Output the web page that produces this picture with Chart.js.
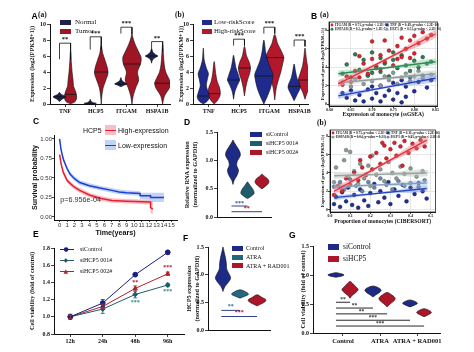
<!DOCTYPE html>
<html>
<head>
<meta charset="utf-8">
<script src="https://cdn.jsdelivr.net/npm/chart.js@4.4.1/dist/chart.umd.min.js"></script>
<style>
  html, body { margin: 0; padding: 0; background: #fff; }
  #fig { position: relative; width: 474px; height: 352px; overflow: hidden; background: #fff; }
  canvas { position: absolute; }
  .t { position: absolute; white-space: nowrap; font-family: 'Liberation Serif', serif; color: #111; line-height: 1; }
  .tag { position: absolute; font-family: 'Liberation Sans', Arial, sans-serif; font-weight: bold; font-size: 8.5px; line-height: 1; color: #000; }
  .box { position: absolute; }
</style>
</head>
<body>
<div id="fig"></div>
<script>
// ---------- data ----------

// A (a): TCGA expression, violin profiles as [value, half width] from bottom to top
const genes = ['TNF', 'HCP5', 'ITGAM', 'HSPA1B'];
const aNormal = [
  [[0.3, 0], [0.6, 0.08], [0.85, 0.2], [1.0, 0.18], [1.2, 0.06], [1.45, 0]],
  [[0, 0], [0.03, 0.14], [0.1, 0.2], [0.2, 0.08], [0.4, 0.02], [0.6, 0]],
  [[2.15, 0], [2.35, 0.1], [2.5, 0.2], [2.65, 0.14], [2.9, 0.04], [3.3, 0]],
  [[5.1, 0], [5.5, 0.03], [5.8, 0.12], [6.0, 0.2], [6.2, 0.12], [6.5, 0.04], [6.9, 0]]
];
const aTumor = [
  [[0, 0], [0.3, 0.15], [0.8, 0.2], [1.5, 0.17], [2.2, 0.1], [3, 0.08], [4, 0.05], [5, 0.03], [6.6, 0]],
  [[0, 0], [1, 0.02], [2, 0.06], [3, 0.15], [3.8, 0.22], [4.5, 0.2], [5.5, 0.12], [6.3, 0.05], [7.3, 0]],
  [[0, 0], [1, 0.04], [2, 0.12], [3, 0.22], [4, 0.18], [5, 0.28], [5.8, 0.3], [6.5, 0.22], [7.5, 0.1], [8.3, 0.03], [8.9, 0]],
  [[0, 0], [1, 0.06], [2, 0.22], [2.6, 0.26], [3.2, 0.2], [4, 0.1], [5, 0.05], [6, 0.03], [7.4, 0]]
];
const aNormalMed = [0.9, 0.05, 2.5, 6.0];
const aTumorMed = [1.2, 4.0, 5.0, 2.6];
const aSig = [[7.6, 2.0, '**'], [8.4, 1.6, '***'], [9.6, 0.8, '***'], [7.8, 1.3, '**']];

// A (b): low / high risk score
const abLow = [
  [[0, 0], [0.3, 0.12], [0.8, 0.2], [1.5, 0.16], [2.3, 0.1], [3.2, 0.14], [3.8, 0.17], [4.5, 0.1], [5.5, 0.03], [7, 0]],
  [[0.6, 0], [1.5, 0.04], [2.3, 0.12], [3.0, 0.2], [3.6, 0.16], [4.5, 0.08], [5.3, 0.04], [6.1, 0]],
  [[0, 0], [1, 0.12], [2, 0.22], [3, 0.28], [3.7, 0.3], [4.5, 0.22], [5.5, 0.12], [6.5, 0.06], [8, 0]],
  [[0.4, 0], [1.2, 0.1], [2, 0.2], [2.5, 0.18], [3.2, 0.1], [4, 0.05], [5, 0]]
];
const abHigh = [
  [[0, 0], [0.5, 0.12], [1.2, 0.2], [2, 0.18], [2.8, 0.1], [3.8, 0.05], [5.3, 0]],
  [[1, 0], [2, 0.04], [3, 0.1], [3.8, 0.17], [4.5, 0.2], [5.2, 0.16], [6, 0.07], [7.2, 0]],
  [[0.5, 0], [2, 0.05], [3, 0.12], [4, 0.2], [5, 0.26], [5.8, 0.3], [6.6, 0.22], [7.5, 0.1], [8.7, 0]],
  [[0.6, 0], [1.5, 0.08], [2.3, 0.18], [3, 0.22], [3.8, 0.16], [4.8, 0.08], [5.8, 0.04], [7, 0]]
];
const abLowMed = [1.0, 3.0, 3.5, 2.2];
const abHighMed = [1.3, 4.5, 5.8, 3.0];
const abSig = [null, [8.1, 0.8, '***'], [9.6, 0.8, '***'], [8.0, 0.8, '***']];

// B (a): genes vs monocyte ssGSEA score
const baRed = [[0.63,2.1],[0.64,3.0],[0.65,2.4],[0.66,3.6],[0.67,2.9],[0.68,4.4],[0.69,3.3],[0.70,4.9],[0.70,6.8],[0.71,3.9],[0.72,5.3],[0.73,4.6],[0.73,6.9],[0.74,5.8],[0.75,4.2],[0.76,6.3],[0.77,5.1],[0.77,7.2],[0.78,6.0],[0.79,6.9],[0.80,5.5],[0.80,7.4],[0.81,6.6],[0.82,7.8],[0.83,7.1],[0.84,7.5],[0.76,4.9],[0.72,3.8],[0.79,5.0],[0.67,5.2]];
const baGreen = [[0.63,3.3],[0.64,4.3],[0.65,2.9],[0.66,5.4],[0.67,3.7],[0.68,4.8],[0.69,3.1],[0.70,5.6],[0.71,4.1],[0.72,3.5],[0.72,5.0],[0.73,4.4],[0.74,3.0],[0.75,4.8],[0.76,3.9],[0.77,5.3],[0.78,4.2],[0.79,3.6],[0.80,4.7],[0.81,4.0],[0.82,5.1],[0.83,4.4],[0.84,4.6],[0.70,3.4],[0.75,5.6]];
const baGray = [[0.63,2.4],[0.65,1.9],[0.66,2.7],[0.68,2.2],[0.69,3.1],[0.70,2.5],[0.72,2.0],[0.73,3.0],[0.74,2.6],[0.75,3.4],[0.76,2.2],[0.77,2.9],[0.78,3.3],[0.79,2.5],[0.80,3.0],[0.81,3.6],[0.82,2.8],[0.84,3.2]];
const baNavy = [[0.63,1.2],[0.64,0.7],[0.65,1.5],[0.66,0.4],[0.67,1.0],[0.68,0.3],[0.69,1.6],[0.70,0.6],[0.71,1.2],[0.72,0.3],[0.72,2.0],[0.73,0.9],[0.74,1.5],[0.75,0.5],[0.75,2.3],[0.76,1.2],[0.77,2.6],[0.78,0.8],[0.78,1.9],[0.79,2.9],[0.80,1.4],[0.81,2.4],[0.82,3.1],[0.83,1.8],[0.84,2.6],[0.77,0.2],[0.70,1.9]];
// fitted lines: [x, y, half band]
const baRedFit = [[0.62, 2.2, 0.4], [0.735, 4.9, 0.15], [0.85, 7.6, 0.4]];
const baGreenFit = [[0.62, 3.3, 0.35], [0.735, 3.95, 0.12], [0.85, 4.6, 0.35]];
const baGrayFit = [[0.62, 2.3, 0.35], [0.735, 2.8, 0.12], [0.85, 3.3, 0.35]];
const baNavyFit = [[0.62, 0.9, 0.35], [0.735, 1.85, 0.12], [0.85, 2.8, 0.35]];
const baLegend = ['ITGAM (R = 0.71, p-value < 2.2E-16)', 'TNF (R = 0.49, p-value < 2.2E-16)',
  'HSPA1B (R = 0.2, p-value = 1.1E-5)', 'HCP5 (R = 0.51, p-value < 2.2E-16)'];

// B (b): genes vs CIBERSORT monocyte proportion
const bbRed = [[0.02,1.6],[0.04,2.6],[0.06,2.0],[0.08,3.4],[0.10,2.7],[0.12,4.0],[0.14,3.2],[0.16,4.6],[0.18,3.8],[0.20,5.8],[0.21,4.4],[0.23,6.2],[0.25,5.0],[0.27,7.0],[0.28,5.6],[0.30,6.6],[0.32,7.3],[0.33,5.9],[0.35,6.9],[0.37,7.5],[0.39,6.2],[0.41,7.2],[0.43,6.7],[0.45,7.6],[0.47,6.9],[0.26,7.3],[0.36,4.8],[0.15,5.4]];
const bbGray = [[0.02,3.0],[0.03,4.6],[0.05,2.4],[0.07,5.4],[0.09,3.6],[0.10,6.3],[0.12,4.2],[0.14,2.8],[0.15,5.0],[0.17,3.4],[0.19,4.8],[0.21,5.9],[0.23,3.8],[0.25,4.4],[0.27,3.1],[0.29,5.2],[0.31,4.0],[0.33,3.4],[0.35,4.7],[0.37,3.9],[0.40,4.5],[0.43,3.6],[0.46,4.2],[0.08,6.5],[0.20,2.6]];
const bbSteel = [[0.02,2.5],[0.05,3.0],[0.07,2.2],[0.10,3.3],[0.13,2.6],[0.16,2.0],[0.19,3.0],[0.22,2.4],[0.25,3.4],[0.28,2.7],[0.31,2.2],[0.34,3.1],[0.37,2.6],[0.40,2.9],[0.44,2.5],[0.47,3.2]];
const bbNavy = [[0.02,0.6],[0.03,1.4],[0.05,0.3],[0.06,1.9],[0.08,0.9],[0.09,2.4],[0.11,0.5],[0.12,1.6],[0.14,0.2],[0.15,2.2],[0.17,1.0],[0.19,0.4],[0.20,1.8],[0.22,2.8],[0.24,0.8],[0.25,2.0],[0.27,1.3],[0.29,3.0],[0.30,0.6],[0.32,2.2],[0.34,1.5],[0.36,2.7],[0.38,0.9],[0.40,2.4],[0.42,1.7],[0.44,2.9],[0.46,2.0],[0.48,1.2]];
const bbRedFit = [[0.02, 2.0, 0.4], [0.25, 4.8, 0.15], [0.48, 7.6, 0.4]];
const bbGrayFit = [[0.02, 3.7, 0.35], [0.25, 3.85, 0.12], [0.48, 4.0, 0.35]];
const bbSteelFit = [[0.02, 2.5, 0.3], [0.25, 2.7, 0.1], [0.48, 2.9, 0.3]];
const bbNavyFit = [[0.02, 1.3, 0.3], [0.25, 1.8, 0.1], [0.48, 2.3, 0.3]];
const bbLegend = ['ITGAM (R = 0.75, p-value < 2.2E-16)', 'TNF (R = 0.31, p-value < 2.2E-16)',
  'HSPA1B (R = 0.04, p-value = 0.23)', 'HCP5 (R = 0.45, p-value < 2.2E-16)'];

// C: Kaplan-Meier, HCP5 low / high
const kmLowT  = [0, 0.2, 0.5, 1, 1.4, 2, 2.7, 4, 5.4, 7, 8, 9, 10.8, 10.8, 12.2, 12.2, 14];
const kmLowS  = [1.0, 0.86, 0.74, 0.62, 0.55, 0.49, 0.44, 0.40, 0.37, 0.34, 0.32, 0.31, 0.30, 0.27, 0.27, 0.25, 0.25];
const kmLowHi = [1.0, 0.88, 0.77, 0.65, 0.58, 0.52, 0.47, 0.43, 0.40, 0.37, 0.35, 0.34, 0.33, 0.31, 0.31, 0.31, 0.31];
const kmLowLo = [1.0, 0.84, 0.71, 0.59, 0.52, 0.46, 0.41, 0.37, 0.34, 0.31, 0.29, 0.28, 0.27, 0.23, 0.22, 0.19, 0.19];
const kmHighT  = [0, 0.2, 0.5, 1, 1.4, 2, 2.7, 4, 5.4, 7, 9, 12.2, 12.2, 12.5];
const kmHighS  = [0.80, 0.68, 0.57, 0.47, 0.43, 0.38, 0.34, 0.28, 0.24, 0.21, 0.20, 0.19, 0.12, 0.10];
const kmHighHi = [0.82, 0.71, 0.60, 0.50, 0.46, 0.41, 0.37, 0.31, 0.27, 0.24, 0.23, 0.22, 0.20, 0.20];
const kmHighLo = [0.78, 0.65, 0.54, 0.44, 0.40, 0.35, 0.31, 0.25, 0.21, 0.18, 0.17, 0.16, 0.05, 0.03];
const kmYears = [0, 1, 2, 3, 4, 5, 6, 7, 8, 9, 10, 11, 12, 13, 14, 15];

// D: knockdown qPCR
const dGroups = ['siControl', 'siHCP5 001#', 'siHCP5 002#'];
const dViolins = [
  [[0.58, 0], [0.65, 0.08], [0.75, 0.3], [0.83, 0.38], [0.92, 0.25], [1.0, 0.32], [1.08, 0.5], [1.15, 0.48], [1.25, 0.25], [1.32, 0.08], [1.36, 0]],
  [[0.33, 0], [0.37, 0.25], [0.42, 0.45], [0.47, 0.42], [0.52, 0.3], [0.57, 0.15], [0.62, 0]],
  [[0.5, 0], [0.54, 0.2], [0.59, 0.42], [0.63, 0.48], [0.68, 0.38], [0.72, 0.18], [0.76, 0]]
];
const dSig = [[1, 0.2, '***'], [2, 0.1, '**']];

// E: cell viability over time
const eTimes = ['12h', '24h', '48h', '96h'];
const eCtrl = [1.0, 1.16, 1.49, 1.75];
const e001 = [1.0, 1.09, 1.26, 1.37];
const e002 = [1.0, 1.12, 1.33, 1.50];
const eCtrlErr = [0.03, 0.04, 0.01, 0.02];
const e001Err = [0.02, 0.05, 0.04, 0.02];
const e002Err = [0.02, 0.03, 0.03, 0.02];

// F: HCP5 after ATRA treatment
const fGroups = ['Control', 'ATRA', 'ATRA + RAD001'];
const fViolins = [
  [[0.7, 0], [0.78, 0.1], [0.86, 0.3], [0.94, 0.45], [1.02, 0.35], [1.1, 0.22], [1.2, 0.2], [1.3, 0.15], [1.42, 0.06], [1.5, 0]],
  [[0.58, 0], [0.61, 0.25], [0.65, 0.5], [0.69, 0.35], [0.73, 0]],
  [[0.44, 0], [0.47, 0.2], [0.51, 0.45], [0.55, 0.52], [0.59, 0.3], [0.64, 0]]
];
const fSig = [[1, 0.36, '**'], [2, 0.25, '***']];

// G: viability, siControl / siHCP5 under treatments
const gGroups = ['Control', 'ATRA', 'ATRA + RAD001'];
const gCtrl = [
  [[0.96, 0], [0.98, 0.15], [1.0, 0.22], [1.02, 0.15], [1.04, 0]],
  [[0.62, 0], [0.66, 0.08], [0.7, 0.18], [0.74, 0.22], [0.78, 0.15], [0.81, 0]],
  [[0.45, 0], [0.48, 0.12], [0.51, 0.2], [0.54, 0.15], [0.57, 0]]
];
const gHcp5 = [
  [[0.6, 0], [0.65, 0.06], [0.7, 0.16], [0.75, 0.22], [0.8, 0.15], [0.85, 0.08], [0.89, 0]],
  [[0.45, 0], [0.5, 0.08], [0.55, 0.18], [0.6, 0.22], [0.65, 0.14], [0.7, 0]],
  [[0.28, 0], [0.31, 0.1], [0.35, 0.2], [0.38, 0.16], [0.42, 0]]
];
// comparisons from siControl/Control: [group, side, level, stars]
const gSig = [[0, 1, 0.53, '**'], [1, -1, 0.43, '**'], [1, 1, 0.33, '**'], [2, -1, 0.22, '***'], [2, 1, 0.12, '***']];

// ---------- helpers ----------
const SERIF = "'Liberation Serif', 'Times New Roman', serif";
const SANS = "'Liberation Sans', Arial, sans-serif";
const NAVY = '#1d2a86', RED = '#ad1628', TEAL = '#1f5c6d';

Chart.defaults.font.family = SERIF;
Chart.defaults.font.weight = 'bold';
Chart.defaults.color = '#111';
Chart.defaults.animation = false;
Chart.defaults.events = [];
Chart.defaults.plugins.legend.display = false;
Chart.defaults.plugins.tooltip.enabled = false;

const fig = document.getElementById('fig');

function panel(box, area, type, datasets, scales, plugins, extra) {
  const c = document.createElement('canvas');
  c.width = box.w; c.height = box.h;
  c.style.left = box.x + 'px'; c.style.top = box.y + 'px';
  fig.appendChild(c);
  const yw = area.l - box.x, xh = box.y + box.h - area.b;
  scales.x.afterFit = s => { s.height = xh; };
  scales.y.afterFit = s => { s.width = yw; };
  return new Chart(c, {
    type,
    data: Object.assign({datasets}, extra || {}),
    options: {
      responsive: false, devicePixelRatio: 1,
      layout: {padding: {left: 0, top: area.t - box.y, right: box.x + box.w - area.r, bottom: 0}},
      scales
    },
    plugins: plugins || []
  });
}

function axis(min, max, ticks, labels, o = {}) {
  const fam = o.family || SERIF, wt = o.weight || 'bold';
  return {
    type: 'linear', min, max,
    afterBuildTicks: s => { s.ticks = ticks.map(v => ({value: v})); },
    ticks: {
      display: !o.hideTicks, font: {size: o.size || 6, family: fam, weight: wt}, padding: o.pad ?? 1,
      color: o.color || '#111', maxRotation: 0, autoSkip: false,
      callback: (v, i) => labels ? labels[i] : v
    },
    grid: {display: !o.hideTicks, drawOnChartArea: !!o.gridOn, color: o.gridColor || '#111',
      tickLength: o.tick ?? 3, tickColor: '#111', tickWidth: 0.8},
    border: {display: true, color: '#111', width: o.bw || 1},
    title: o.title ? {display: true, text: o.title, padding: 0, color: '#111',
      font: {size: o.tsize || 6.5, family: fam, weight: 'bold'}} : {display: false}
  };
}

function halfAt(prof, v) {
  for (let i = 1; i < prof.length; i++) {
    const [y0, w0] = prof[i - 1], [y1, w1] = prof[i];
    if (v >= y0 && v <= y1) return w0 + (w1 - w0) * (v - y0) / (y1 - y0);
  }
  return 0;
}

function violin(cx, prof, color) {
  const right = prof.map(([y, w]) => ({x: cx + w, y}));
  const left = prof.slice().reverse().slice(1).map(([y, w]) => ({x: cx - w, y}));
  return {data: right.concat(left), showLine: true, backgroundColor: color, borderColor: '#111',
    borderWidth: 0.6, fill: 'shape', pointRadius: 0, tension: 0.3};
}

function seg(pts, color, width) {
  return {data: pts.map(([x, y]) => ({x, y})), showLine: true, borderColor: color || '#111',
    borderWidth: width || 0.8, fill: false, pointRadius: 0, tension: 0};
}

function median(cx, prof, m) {
  const w = halfAt(prof, m);
  return seg([[cx - w, m], [cx + w, m]], '#111', 0.8);
}

function bracket(x0, x1, lvl, leg) {
  return seg([[x0, lvl - leg], [x0, lvl], [x1, lvl], [x1, lvl - leg]], '#111', 0.8);
}

function fitLine(fit, color, band) {
  const up = fit.map(([x, y, h]) => ({x, y: y + h}));
  const dn = fit.slice().reverse().map(([x, y, h]) => ({x, y: y - h}));
  return [
    {data: fit.map(([x, y]) => ({x, y})), showLine: true, borderColor: color, borderWidth: 1.4, pointRadius: 0, fill: false},
    {data: up.concat(dn), showLine: true, borderWidth: 0, backgroundColor: band, fill: 'shape', pointRadius: 0, tension: 0.4}
  ];
}

function dots(pts, color, edge) {
  return {data: pts.map(([x, y]) => ({x, y})), backgroundColor: color, borderColor: edge,
    borderWidth: 0.5, pointRadius: 1.9, showLine: false};
}

function textPlugin(items) {
  return {id: 'txt', afterDatasetsDraw(chart) {
    const {ctx, scales: {x, y}} = chart;
    ctx.save();
    for (const it of items) {
      ctx.font = `${it.weight || 'bold'} ${it.size || 6.5}px ${it.family || SERIF}`;
      ctx.fillStyle = it.color || '#111';
      ctx.textAlign = it.align || 'center';
      ctx.textBaseline = 'middle';
      ctx.fillText(it.text, x.getPixelForValue(it.x), y.getPixelForValue(it.y));
    }
    ctx.restore();
  }};
}

const framePlugin = {id: 'frame', afterDraw(chart) {
  const {ctx, chartArea: a} = chart;
  ctx.save();
  ctx.strokeStyle = '#222'; ctx.lineWidth = 0.8;
  ctx.strokeRect(a.left, a.top, a.right - a.left, a.bottom - a.top);
  ctx.restore();
}};

function dotLegend(names, colors) {
  return {id: 'dotLegend', afterDraw(chart) {
    const {ctx, chartArea: a} = chart;
    ctx.save();
    ctx.font = `bold 3.4px ${SERIF}`;
    ctx.textBaseline = 'middle';
    names.forEach((n, i) => {
      const px = a.left + 3 + (i % 2) * 55, py = a.top + 3 + Math.floor(i / 2) * 4.2;
      ctx.fillStyle = colors[i];
      ctx.beginPath(); ctx.arc(px, py, 1.4, 0, Math.PI * 2); ctx.fill();
      ctx.fillStyle = '#222';
      ctx.fillText(n, px + 3, py);
    });
    ctx.restore();
  }};
}

function label(x, y, text, size, o = {}) {
  const d = document.createElement('div');
  d.className = o.cls || 't';
  d.textContent = text;
  d.style.left = x + 'px';
  d.style.top = (y - size / 2) + 'px';
  d.style.fontSize = size + 'px';
  if (o.family) d.style.fontFamily = o.family;
  d.style.fontWeight = o.weight || 'normal';
  if (o.color) d.style.color = o.color;
  fig.appendChild(d);
  return d;
}

function rect(x, y, w, h, color, extra) {
  const d = document.createElement('div');
  d.className = 'box';
  d.style.left = x + 'px'; d.style.top = y + 'px';
  d.style.width = w + 'px'; d.style.height = h + 'px';
  d.style.background = color;
  if (extra) Object.assign(d.style, extra);
  fig.appendChild(d);
  return d;
}

// ---------- A (a) ----------
{
  const off = 0.18, ds = [], txt = [];
  genes.forEach((g, i) => {
    const s = aSig[i];
    ds.push(bracket(i - off, i + off, s[0], s[1]));
    txt.push({x: i, y: s[0] + 0.45, text: s[2]});
    ds.push(median(i - off, aNormal[i], aNormalMed[i]));
    ds.push(median(i + off, aTumor[i], aTumorMed[i]));
  });
  genes.forEach((g, i) => {
    ds.push(violin(i - off, aNormal[i], '#1b2050'));
    ds.push(violin(i + off, aTumor[i], '#9e1626'));
  });
  panel({x: 29, y: 0, w: 143, h: 118}, {l: 50, r: 170, t: 24, b: 104}, 'line', ds, {
    x: axis(-0.49, 3.42, [0, 1, 2, 3], genes, {size: 6}),
    y: axis(0, 10, [0, 2, 4, 6, 8, 10], null, {size: 6, title: 'Expression (log2(FPKM+1))', tsize: 6.3})
  }, [textPlugin(txt)]);
}

// ---------- A (b) ----------
{
  const off = 0.18, ds = [], txt = [];
  genes.forEach((g, i) => {
    const s = abSig[i];
    if (s) {
      ds.push(bracket(i - off, i + off, s[0], s[1]));
      txt.push({x: i, y: s[0] + 0.45, text: s[2]});
    }
    ds.push(median(i - off, abLow[i], abLowMed[i]));
    ds.push(median(i + off, abHigh[i], abHighMed[i]));
  });
  genes.forEach((g, i) => {
    ds.push(violin(i - off, abLow[i], '#1f2b8c'));
    ds.push(violin(i + off, abHigh[i], '#b3172b'));
  });
  panel({x: 178, y: 0, w: 134, h: 118}, {l: 193, r: 310, t: 24, b: 104}, 'line', ds, {
    x: axis(-0.52, 3.28, [0, 1, 2, 3], genes, {size: 6}),
    y: axis(0, 10, [0, 2, 4, 6, 8, 10], null, {size: 6, title: 'Expression (log2(FPKM+1))', tsize: 6.3})
  }, [textPlugin(txt)]);
}

// ---------- B (a) ----------
{
  const ds = [].concat(
    fitLine(baRedFit, '#e8313b', 'rgba(240,120,130,0.45)'),
    fitLine(baGreenFit, '#2e8b57', 'rgba(120,200,150,0.4)'),
    fitLine(baNavyFit, '#2444b8', 'rgba(110,140,230,0.4)'),
    fitLine(baGrayFit, '#8e9c9c', 'rgba(190,200,200,0.5)'),
    [dots(baRed, '#d7262f', '#8a1119'), dots(baGreen, '#2f7d55', '#17452d'),
     dots(baGray, '#8d9a9a', '#5c6666'), dots(baNavy, '#1e2f96', '#0f1750')]
  );
  panel({x: 320, y: 10, w: 122, h: 108}, {l: 329, r: 440, t: 22, b: 106}, 'scatter', ds, {
    x: axis(0.598, 0.855, [0.60, 0.65, 0.70, 0.75, 0.80, 0.85], ['0.60', '0.65', '0.70', '0.75', '0.80', '0.85'],
      {size: 4, tick: 2, pad: 0, gridOn: true, gridColor: '#e6e6e6', title: 'Expression of monocyte (ssGSEA)', tsize: 5.6}),
    y: axis(-0.2, 8.9, [0, 2, 4, 6, 8], null,
      {size: 4, tick: 2, pad: 0, gridOn: true, gridColor: '#e6e6e6', title: 'Expression of genes (log2(FPKM+1))', tsize: 4.6})
  }, [framePlugin, dotLegend(baLegend, ['#d7262f', '#1e2f96', '#2f7d55', '#8d9a9a'])]);
}

// ---------- B (b) ----------
{
  const ds = [].concat(
    fitLine(bbRedFit, '#e8313b', 'rgba(240,120,130,0.45)'),
    fitLine(bbGrayFit, '#98a49c', 'rgba(190,200,195,0.5)'),
    fitLine(bbSteelFit, '#7f9fbf', 'rgba(170,195,225,0.5)'),
    fitLine(bbNavyFit, '#2444b8', 'rgba(110,140,230,0.4)'),
    [dots(bbRed, '#d7262f', '#8a1119'), dots(bbGray, '#8c9a92', '#5a6660'),
     dots(bbSteel, '#6d8aa3', '#3f5568'), dots(bbNavy, '#1e2f96', '#0f1750')]
  );
  panel({x: 320, y: 118, w: 120, h: 107}, {l: 330, r: 438, t: 130, b: 212}, 'scatter', ds, {
    x: axis(0, 0.524, [0, 0.1, 0.2, 0.3, 0.4, 0.5], ['0.0', '0.1', '0.2', '0.3', '0.4', '0.5'],
      {size: 4, tick: 2, pad: 0, gridOn: true, gridColor: '#e6e6e6', title: 'Proportion of monocytes (CIBERSORT)', tsize: 5.6}),
    y: axis(-0.27, 8.7, [0, 2, 4, 6, 8], null,
      {size: 4, tick: 2, pad: 0, gridOn: true, gridColor: '#e6e6e6', title: 'Expression of genes (log2(FPKM+1))', tsize: 4.6})
  }, [framePlugin, dotLegend(bbLegend, ['#d7262f', '#1e2f96', '#8c9a92', '#6d8aa3'])]);
}

// ---------- C ----------
{
  const line = (T, S, color) => ({data: T.map((t, i) => ({x: t, y: S[i]})), showLine: true,
    borderColor: color, borderWidth: 1.5, pointRadius: 0, fill: false});
  const band = (T, hi, lo, color) => ({
    data: T.map((t, i) => ({x: t, y: hi[i]})).concat(T.map((t, i) => ({x: t, y: lo[i]})).reverse()),
    showLine: true, borderWidth: 0, backgroundColor: color, fill: 'shape', pointRadius: 0});
  const ds = [
    line(kmHighT, kmHighS, '#e8202a'),
    line(kmLowT, kmLowS, '#1f3fd0'),
    band(kmHighT, kmHighHi, kmHighLo, 'rgba(240,110,130,0.45)'),
    band(kmLowT, kmLowHi, kmLowLo, 'rgba(120,160,235,0.45)')
  ];
  const f = {family: SANS, weight: 'normal', size: 6, tick: 2, pad: 0, color: '#333'};
  panel({x: 31, y: 118, w: 147, h: 119}, {l: 54, r: 177, t: 135, b: 220}, 'scatter', ds, {
    x: axis(-0.75, 15.75, kmYears, null, Object.assign({title: 'Time(years)', tsize: 7.2}, f)),
    y: axis(-0.04, 1.05, [0, 0.25, 0.5, 0.75, 1], ['0.00', '0.25', '0.50', '0.75', '1.00'],
      Object.assign({title: 'Survival probability', tsize: 7}, f))
  }, [textPlugin([{x: 0.1, y: 0.21, text: 'p=6.956e-04', family: SANS, weight: 'normal', size: 7.2, color: '#333', align: 'left'}])]);
}

// ---------- D ----------
{
  const colors = [NAVY, TEAL, RED], ds = [], txt = [];
  const sigCol = ['#2b55a8', RED];
  dSig.forEach(([to, lvl, s], k) => {
    ds.push(seg([[-0.1, lvl], [to, lvl]], NAVY, 0.9));
    txt.push({x: (to - 0.1) / 2, y: lvl + 0.05, text: s, color: sigCol[k], size: 6});
  });
  dViolins.forEach((p, i) => ds.push(violin(i, p, colors[i])));
  panel({x: 184, y: 118, w: 88, h: 104}, {l: 217, r: 271, t: 132, b: 220}, 'line', ds, {
    x: axis(-1.1, 2.62, [], null, {hideTicks: true}),
    y: axis(0, 1.5, [0, 0.5, 1, 1.5], ['0.0', '0.5', '1.0', '1.5'],
      {size: 6, title: ['Relative RNA expression', '(normalized to GAPDH)'], tsize: 6.3})
  }, [textPlugin(txt)]);
}

// ---------- E ----------
{
  const series = [
    {vals: eCtrl, err: eCtrlErr, color: '#1a1f7a', style: 'circle'},
    {vals: e001, err: e001Err, color: '#1f5c66', style: 'rectRot'},
    {vals: e002, err: e002Err, color: '#b3202e', style: 'triangle'}
  ];
  const errPlugin = {id: 'err', afterDatasetsDraw(chart) {
    const {ctx, scales: {x, y}} = chart;
    ctx.save(); ctx.lineWidth = 0.8;
    series.forEach(s => {
      ctx.strokeStyle = s.color;
      s.vals.forEach((v, i) => {
        const px = x.getPixelForValue(i);
        const t = y.getPixelForValue(v + s.err[i]), b = y.getPixelForValue(v - s.err[i]);
        ctx.beginPath();
        ctx.moveTo(px, t); ctx.lineTo(px, b);
        ctx.moveTo(px - 2, t); ctx.lineTo(px + 2, t);
        ctx.moveTo(px - 2, b); ctx.lineTo(px + 2, b);
        ctx.stroke();
      });
    });
    ctx.restore();
  }};
  const ds = series.map(s => ({data: s.vals, borderColor: s.color, backgroundColor: s.color,
    borderWidth: 1, pointStyle: s.style, pointRadius: 2.4, tension: 0}));
  const catX = axis(0, 3, [], null, {size: 6});
  Object.assign(catX, {type: 'category', offset: true, min: undefined, max: undefined, afterBuildTicks: undefined});
  catX.ticks.callback = function (v) { return this.getLabelForValue(v); };
  panel({x: 29, y: 240, w: 160, h: 110}, {l: 54, r: 186, t: 248, b: 334}, 'line', ds, {
    x: catX,
    y: axis(0.8, 1.8, [0.8, 1.0, 1.2, 1.4, 1.6, 1.8], ['0.8', '1.0', '1.2', '1.4', '1.6', '1.8'],
      {size: 6, title: 'Cell viability (fold of control)', tsize: 6.3})
  }, [errPlugin, textPlugin([
    {x: 2, y: 1.40, text: '**', color: '#b3202e', size: 6},
    {x: 2, y: 1.17, text: '***', color: '#2a8a8a', size: 6},
    {x: 3, y: 1.57, text: '***', color: '#b3202e', size: 6},
    {x: 3, y: 1.29, text: '***', color: '#2a8a8a', size: 6}
  ])], {labels: eTimes});
}

// ---------- F ----------
{
  const colors = [NAVY, '#24687f', RED], ds = [], txt = [];
  const sigCol = ['#2a7a8a', RED];
  fSig.forEach(([to, lvl, s], k) => {
    ds.push(seg([[-0.1, lvl], [to, lvl]], NAVY, 0.9));
    txt.push({x: (to - 0.1) / 2, y: lvl + 0.07, text: s, color: sigCol[k], size: 6});
  });
  fViolins.forEach((p, i) => ds.push(violin(i, p, colors[i])));
  panel({x: 186, y: 240, w: 86, h: 95}, {l: 208, r: 270, t: 247, b: 334}, 'line', ds, {
    x: axis(-0.88, 2.76, [], null, {hideTicks: true}),
    y: axis(0, 1.5, [0, 0.5, 1, 1.5], ['0.0', '0.5', '1.0', '1.5'],
      {size: 6, title: ['HCP5 expression', '(normalized to GAPDH)'], tsize: 6.3})
  }, [textPlugin(txt)]);
}

// ---------- G ----------
{
  const off = 0.19, ds = [], txt = [];
  gSig.forEach(([g, side, lvl, s]) => {
    const x1 = g + side * off;
    ds.push(seg([[-off, lvl], [x1, lvl]], '#111', 0.9));
    txt.push({x: (x1 - off) / 2, y: lvl + 0.045, text: s, color: '#333', size: 5.5});
  });
  gGroups.forEach((g, i) => {
    ds.push(violin(i - off, gCtrl[i], NAVY));
    ds.push(violin(i + off, gHcp5[i], RED));
  });
  panel({x: 300, y: 240, w: 174, h: 110}, {l: 313, r: 440, t: 246, b: 333}, 'line', ds, {
    x: axis(-0.81, 2.62, [0, 1, 2], gGroups, {size: 6.5}),
    y: axis(0, 1.5, [0, 0.5, 1, 1.5], ['0.0', '0.5', '1.0', '1.5'],
      {size: 6, title: 'Cell viability (fold of control)', tsize: 6.3})
  }, [textPlugin(txt)]);
}

// ---------- legends and panel tags ----------
rect(60, 20, 11, 4.5, '#1b2050'); label(75, 22, 'Normal', 7);
rect(60, 29, 11, 4.5, '#9e1626'); label(75, 31, 'Tumor', 7);

rect(202, 20, 10, 4.5, '#1f2b8c'); label(214, 22, 'Low-riskScore', 6.8);
rect(202, 29, 10, 4.5, '#b3172b'); label(214, 31, 'High-riskScore', 6.8);

label(83, 130, 'HCP5', 7, {family: SANS});
rect(105, 125, 11, 10, 'rgba(240,110,130,0.45)');
rect(105, 129.5, 11, 1.4, '#e8202a');
label(118, 130, 'High-expression', 7, {family: SANS});
rect(105, 140, 11, 10, 'rgba(120,160,235,0.45)');
rect(105, 144.5, 11, 1.4, '#1f3fd0');
label(118, 145, 'Low-expression', 7, {family: SANS});

[[NAVY, 134], [TEAL, 143], [RED, 152]].forEach(([c, y], i) => {
  rect(250, y - 2.5, 12, 5, c);
  label(266, y, dGroups[i], 6);
});

[['#1a1f7a', '●', 249], ['#1f5c66', '◆', 260], ['#b3202e', '▲', 271]].forEach(([c, g, y], i) => {
  rect(60, y - 0.5, 14, 1, c);
  label(63.5, y, g, 6, {color: c, family: 'DejaVu Sans'});
  label(80, y, ['siControl', 'siHCP5 001#', 'siHCP5 002#'][i], 6);
});

[[NAVY, 248], ['#24687f', 257], [RED, 265.5]].forEach(([c, y], i) => {
  rect(232, y - 2.5, 11, 5, c);
  label(246, y, fGroups[i], 6);
});

rect(328, 244, 11, 6, NAVY); label(343, 247, 'siControl', 7.5);
rect(328, 256, 11, 6, RED); label(343, 259, 'siHCP5', 7.5);

label(31.5, 16, 'A', 8.5, {cls: 'tag', weight: 'bold'});
label(38, 15, '(a)', 7.5, {weight: 'bold'});
label(175, 15, '(b)', 7.5, {weight: 'bold'});
label(311, 16, 'B', 8.5, {cls: 'tag', weight: 'bold'});
label(320, 15, '(a)', 7.5, {weight: 'bold'});
label(317, 123, '(b)', 7.5, {weight: 'bold'});
label(33, 121, 'C', 8.5, {cls: 'tag', weight: 'bold'});
label(184, 122, 'D', 8.5, {cls: 'tag', weight: 'bold'});
label(33, 234, 'E', 8.5, {cls: 'tag', weight: 'bold'});
label(183, 238, 'F', 8.5, {cls: 'tag', weight: 'bold'});
label(289, 235, 'G', 8.5, {cls: 'tag', weight: 'bold'});
</script>
</body>
</html>
